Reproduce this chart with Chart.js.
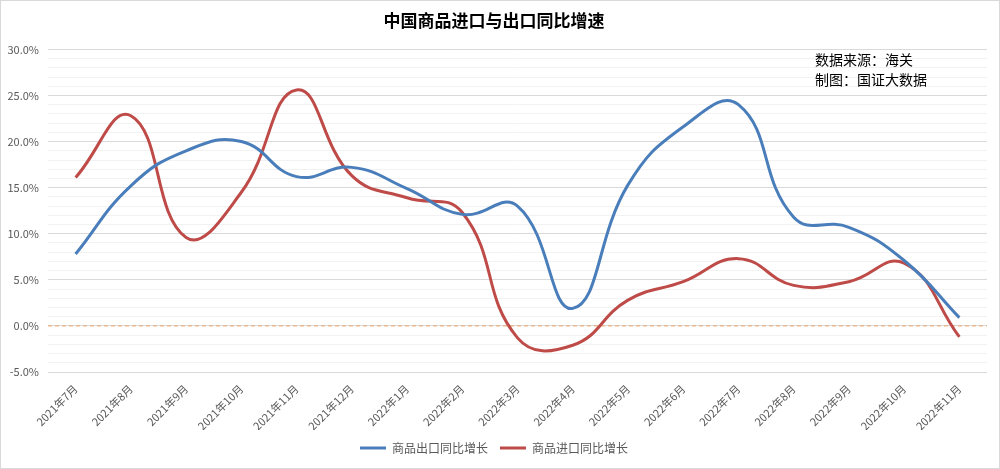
<!DOCTYPE html>
<html>
<head>
<meta charset="utf-8">
<script src="https://cdn.jsdelivr.net/npm/chart.js@4.4.1/dist/chart.umd.min.js"></script>
<style>
    html, body { margin: 0; padding: 0; background: #fff; }
    #wrap { width: 1000px; height: 469px; box-sizing: border-box; border: 1px solid #d9d9d9; }
    #growthChart { display: block; }
</style>
</head>
<body>
<div id="wrap"><canvas id="growthChart" width="998" height="467"></canvas></div>
<script>
const months = [
    '2021年7月', '2021年8月', '2021年9月', '2021年10月', '2021年11月', '2021年12月',
    '2022年1月', '2022年2月', '2022年3月', '2022年4月', '2022年5月', '2022年6月',
    '2022年7月', '2022年8月', '2022年9月', '2022年10月', '2022年11月'
];
// 商品出口同比增长 (%)
const exportGrowth = [7.8, 15.2, 19.0, 20.0, 16.2, 17.2, 14.9, 12.1, 13.0, 1.9, 15.3, 21.6, 24.0, 11.8, 10.7, 7.1, 0.9];
// 商品进口同比增长 (%)
const importGrowth = [16.1, 22.8, 9.6, 14.5, 25.6, 16.3, 13.9, 12.3, -1.3, -2.1, 2.8, 4.8, 7.3, 4.4, 4.8, 6.8, -1.2];

const yMin = -5;
const yMax = 30;

const fontFamily = '"Noto Sans CJK SC", "Noto Sans", sans-serif';

// dashed zero line + source note
const extras = {
    id: 'extras',
    beforeDatasetsDraw(chart) {
        const ctx = chart.ctx;
        const area = chart.chartArea;
        const y = chart.scales.y.getPixelForValue(0);
        ctx.save();
        ctx.strokeStyle = '#eea467';
        ctx.lineWidth = 1;
        ctx.setLineDash([4, 3]);
        ctx.beginPath();
        ctx.moveTo(area.left, y);
        ctx.lineTo(area.right, y);
        ctx.stroke();
        ctx.restore();
    },
    afterDraw(chart) {
        const ctx = chart.ctx;
        ctx.save();
        ctx.fillStyle = '#000';
        ctx.font = '14px ' + fontFamily;
        ctx.textBaseline = 'middle';
        ctx.fillText('数据来源：海关', 814, 59);
        ctx.fillText('制图：国证大数据', 814, 79);
        ctx.restore();
    }
};

const ctx = document.getElementById('growthChart').getContext('2d');

const chart = new Chart(ctx, {
    type: 'line',
    data: {
        labels: months,
        datasets: [{
            label: '商品出口同比增长',
            data: exportGrowth,
            borderColor: '#4a7ebb',
            backgroundColor: '#4a7ebb',
            borderWidth: 3,
            pointRadius: 0,
            tension: 0.45,
        }, {
            label: '商品进口同比增长',
            data: importGrowth,
            borderColor: '#be4b48',
            backgroundColor: '#be4b48',
            borderWidth: 3,
            pointRadius: 0,
            tension: 0.45,
        }]
    },
    options: {
        responsive: false,
        animation: false,
        layout: {
            padding: { left: 0, right: 12, bottom: 4 }
        },
        scales: {
            x: {
                offset: true,
                grid: { display: false },
                border: { display: false },
                ticks: {
                    color: '#595959',
                    font: { family: fontFamily, size: 11 },
                    minRotation: 45,
                    maxRotation: 45,
                    autoSkip: false,
                    padding: 2,
                },
                afterFit(scale) {
                    scale.height = 58;
                }
            },
            y: {
                min: yMin,
                max: yMax,
                border: { display: false },
                grid: {
                    drawTicks: false,
                    color: c => (Math.round(c.tick.value) % 5 === 0 ? '#d9d9d9' : '#f2f2f2'),
                },
                ticks: {
                    stepSize: 1,
                    autoSkip: false,
                    padding: 9,
                    color: '#595959',
                    font: { family: fontFamily, size: 11 },
                    callback: v => (Math.round(v) % 5 === 0 ? v.toFixed(1) + '%' : ''),
                },
                afterFit(scale) {
                    scale.width = 47;
                }
            }
        },
        plugins: {
            title: {
                display: true,
                text: '中国商品进口与出口同比增速',
                color: '#000',
                font: { family: fontFamily, size: 17, weight: 'bold' },
                padding: { top: 9, bottom: 19 },
            },
            legend: {
                position: 'bottom',
                labels: {
                    usePointStyle: true,
                    pointStyle: 'line',
                    pointStyleWidth: 26,
                    color: '#595959',
                    font: { family: fontFamily, size: 12 },
                    padding: 12,
                }
            },
            tooltip: { enabled: false }
        }
    },
    plugins: [extras]
});
</script>
</body>
</html>
